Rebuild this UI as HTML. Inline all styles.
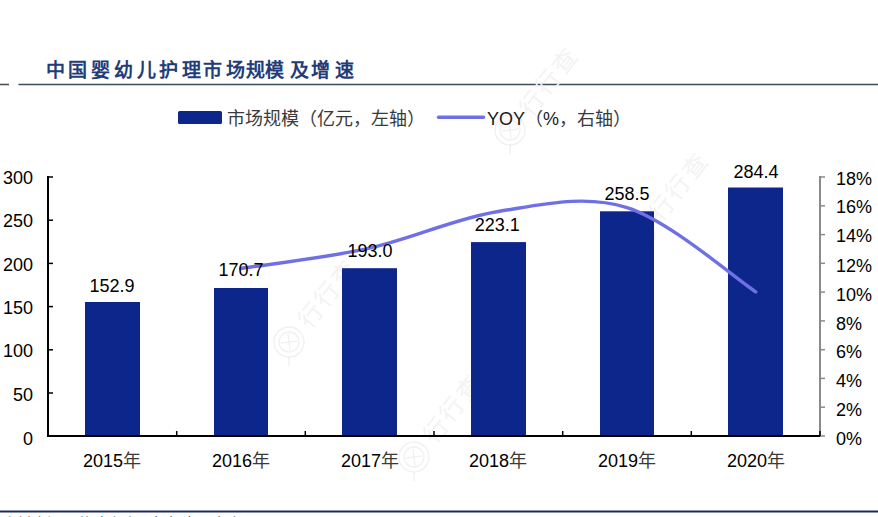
<!DOCTYPE html>
<html lang="zh-CN"><head><meta charset="utf-8">
<style>
html,body{margin:0;padding:0;background:#fff;}
body{width:878px;height:517px;overflow:hidden;position:relative;font-family:"Liberation Sans",sans-serif;}
.abs{position:absolute;white-space:nowrap;line-height:1;}
.title{left:0;top:61px;font-size:19px;font-weight:600;color:#1f3d78;}
.title span{position:absolute;top:0;width:18px;margin-left:-0.5px;text-align:center;}
.lg{font-size:18px;color:#1a1a1a;top:109.5px;}
.dl{font-size:18px;color:#000;}
.yl{font-size:18px;color:#000;}
.cj{color:#3a3a3a;}
</style></head>
<body>
<div class="abs title"><span style="left:46.5px">中</span><span style="left:68.8px">国</span><span style="left:91.3px">婴</span><span style="left:114.4px">幼</span><span style="left:137.1px">儿</span><span style="left:159.5px">护</span><span style="left:182.3px">理</span><span style="left:203.8px">市</span><span style="left:226.0px">场</span><span style="left:246.2px">规</span><span style="left:265.7px">模</span><span style="left:290.3px">及</span><span style="left:311.8px">增</span><span style="left:335.0px">速</span></div>
<svg class="abs" style="left:0;top:0" width="878" height="517" viewBox="0 0 878 517">
  <line x1="0" y1="84.5" x2="9" y2="84.5" stroke="#4a5260" stroke-width="1.6"/>
  <line x1="18.5" y1="84.5" x2="878" y2="84.5" stroke="#3c4c64" stroke-width="1.6"/>
  <line x1="0" y1="511.6" x2="878" y2="511.6" stroke="#1a2a5a" stroke-width="2"/>
  <!-- watermarks -->
  <g transform="translate(289,342) rotate(-52)" fill="none" stroke="#f0f0f0" stroke-width="1.3"><circle cx="0" cy="0" r="15"/><circle cx="0" cy="0" r="10"/><path d="M-6,-6 L6,6 M6,-6 L-6,6"/><path d="M-11.8,9.2 L-18.9,14.8"/><text x="22" y="9" font-size="24" letter-spacing="3" fill="#f3f3f3" stroke="none">行行查</text></g>
  <g transform="translate(414,457) rotate(-52)" fill="none" stroke="#f0f0f0" stroke-width="1.3"><circle cx="0" cy="0" r="15"/><circle cx="0" cy="0" r="10"/><path d="M-6,-6 L6,6 M6,-6 L-6,6"/><path d="M-11.8,9.2 L-18.9,14.8"/><text x="22" y="9" font-size="24" letter-spacing="3" fill="#f3f3f3" stroke="none">行行查</text></g>
  <g transform="translate(510,130) rotate(-52)" fill="none" stroke="#f0f0f0" stroke-width="1.3"><circle cx="0" cy="0" r="15"/><circle cx="0" cy="0" r="10"/><path d="M-6,-6 L6,6 M6,-6 L-6,6"/><path d="M-11.8,9.2 L-18.9,14.8"/><text x="22" y="9" font-size="24" letter-spacing="3" fill="#f3f3f3" stroke="none">行行查</text></g>
  <g transform="translate(640,235) rotate(-52)" fill="none" stroke="#f0f0f0" stroke-width="1.3"><circle cx="0" cy="0" r="15"/><circle cx="0" cy="0" r="10"/><path d="M-6,-6 L6,6 M6,-6 L-6,6"/><path d="M-11.8,9.2 L-18.9,14.8"/><text x="22" y="9" font-size="24" letter-spacing="3" fill="#f3f3f3" stroke="none">行行查</text></g>
  <!-- legend -->
  <rect x="178" y="111" width="44" height="13" rx="1.5" fill="#0c268c"/>
  <line x1="438.5" y1="117.3" x2="483.5" y2="117.3" stroke="#7070e6" stroke-width="3.4" stroke-linecap="round"/>
  <!-- bars -->
  <g fill="#0c268c">
    <rect x="85" y="302" width="55" height="134"/>
    <rect x="214" y="288" width="54" height="148"/>
    <rect x="342" y="268.2" width="55" height="167.8"/>
    <rect x="471" y="242.1" width="55" height="193.9"/>
    <rect x="600" y="211.3" width="54" height="224.7"/>
    <rect x="728" y="187.5" width="55" height="248.5"/>
  </g>
  <!-- right axis -->
  <g stroke="#8a8a8a" stroke-width="2">
    <line x1="820" y1="176" x2="820" y2="437"/>
  </g>
  <g stroke="#8a8a8a" stroke-width="1.5">
    <line x1="820" y1="177" x2="825" y2="177"/>
    <line x1="820" y1="205.8" x2="825" y2="205.8"/>
    <line x1="820" y1="234.6" x2="825" y2="234.6"/>
    <line x1="820" y1="263.3" x2="825" y2="263.3"/>
    <line x1="820" y1="292.1" x2="825" y2="292.1"/>
    <line x1="820" y1="320.9" x2="825" y2="320.9"/>
    <line x1="820" y1="349.7" x2="825" y2="349.7"/>
    <line x1="820" y1="378.4" x2="825" y2="378.4"/>
    <line x1="820" y1="407.2" x2="825" y2="407.2"/>
    <line x1="820" y1="436" x2="825" y2="436"/>
  </g>
  <!-- left axis -->
  <g stroke="#000" stroke-width="2">
    <line x1="48" y1="176" x2="48" y2="437"/>
    <line x1="47" y1="436" x2="820" y2="436"/>
  </g>
  <g stroke="#000" stroke-width="1.5">
    <line x1="48" y1="177" x2="53" y2="177"/>
    <line x1="48" y1="220.2" x2="53" y2="220.2"/>
    <line x1="48" y1="263.4" x2="53" y2="263.4"/>
    <line x1="48" y1="306.6" x2="53" y2="306.6"/>
    <line x1="48" y1="349.8" x2="53" y2="349.8"/>
    <line x1="48" y1="393" x2="53" y2="393"/>
    <line x1="176.7" y1="436" x2="176.7" y2="431"/>
    <line x1="305.3" y1="436" x2="305.3" y2="431"/>
    <line x1="434" y1="436" x2="434" y2="431"/>
    <line x1="562.7" y1="436" x2="562.7" y2="431"/>
    <line x1="691.3" y1="436" x2="691.3" y2="431"/>
    <line x1="820" y1="436" x2="820" y2="431"/>
  </g>
  <!-- YOY line -->
  <path d="M241.0,268.5 C262.4,265.1 326.8,257.6 369.7,248.1 C412.6,238.6 455.4,218.2 498.3,211.5 C541.2,204.8 584.1,194.2 627.0,207.6 C669.9,221.0 734.2,277.8 755.7,291.8" fill="none" stroke="#7070e6" stroke-width="3.4" stroke-linecap="round"/>
</svg>
<!-- legend text -->
<div class="abs lg cj" style="left:227px">市场规模（亿元，左轴）</div>
<div class="abs lg" style="left:487px">YOY<span class="cj">（</span>%<span class="cj">，右轴）</span></div>
<!-- data labels -->
<div class="abs dl" style="left:112px;top:276.8px;transform:translateX(-50%)">152.9</div>
<div class="abs dl" style="left:241px;top:261.3px;transform:translateX(-50%)">170.7</div>
<div class="abs dl" style="left:370px;top:242px;transform:translateX(-50%)">193.0</div>
<div class="abs dl" style="left:497.3px;top:216.4px;transform:translateX(-50%)">223.1</div>
<div class="abs dl" style="left:627px;top:185.1px;transform:translateX(-50%)">258.5</div>
<div class="abs dl" style="left:756px;top:163px;transform:translateX(-50%)">284.4</div>
<!-- left y labels -->
<div class="abs yl" style="right:845px;top:169px">300</div>
<div class="abs yl" style="right:845px;top:212px">250</div>
<div class="abs yl" style="right:845px;top:256px">200</div>
<div class="abs yl" style="right:845px;top:299px">150</div>
<div class="abs yl" style="right:845px;top:342px">100</div>
<div class="abs yl" style="right:845px;top:386px">50</div>
<div class="abs yl" style="right:845px;top:430px">0</div>
<!-- right y labels -->
<div class="abs yl" style="left:836px;top:170px">18%</div>
<div class="abs yl" style="left:836px;top:198px">16%</div>
<div class="abs yl" style="left:836px;top:227px">14%</div>
<div class="abs yl" style="left:836px;top:257px">12%</div>
<div class="abs yl" style="left:836px;top:286px">10%</div>
<div class="abs yl" style="left:836px;top:315px">8%</div>
<div class="abs yl" style="left:836px;top:343px">6%</div>
<div class="abs yl" style="left:836px;top:372px">4%</div>
<div class="abs yl" style="left:836px;top:401px">2%</div>
<div class="abs yl" style="left:836px;top:430px">0%</div>
<!-- x labels -->
<div class="abs yl" style="left:112px;top:452px;transform:translateX(-50%)">2015<span class="cj">年</span></div>
<div class="abs yl" style="left:241px;top:452px;transform:translateX(-50%)">2016<span class="cj">年</span></div>
<div class="abs yl" style="left:370px;top:452px;transform:translateX(-50%)">2017<span class="cj">年</span></div>
<div class="abs yl" style="left:498px;top:452px;transform:translateX(-50%)">2018<span class="cj">年</span></div>
<div class="abs yl" style="left:627px;top:452px;transform:translateX(-50%)">2019<span class="cj">年</span></div>
<div class="abs yl" style="left:756px;top:452px;transform:translateX(-50%)">2020<span class="cj">年</span></div>
<div class="abs" style="left:2px;top:516px;font-size:15px;color:#555;">资料来源：艾瑞咨询，行行查研究中心</div>
</body></html>
